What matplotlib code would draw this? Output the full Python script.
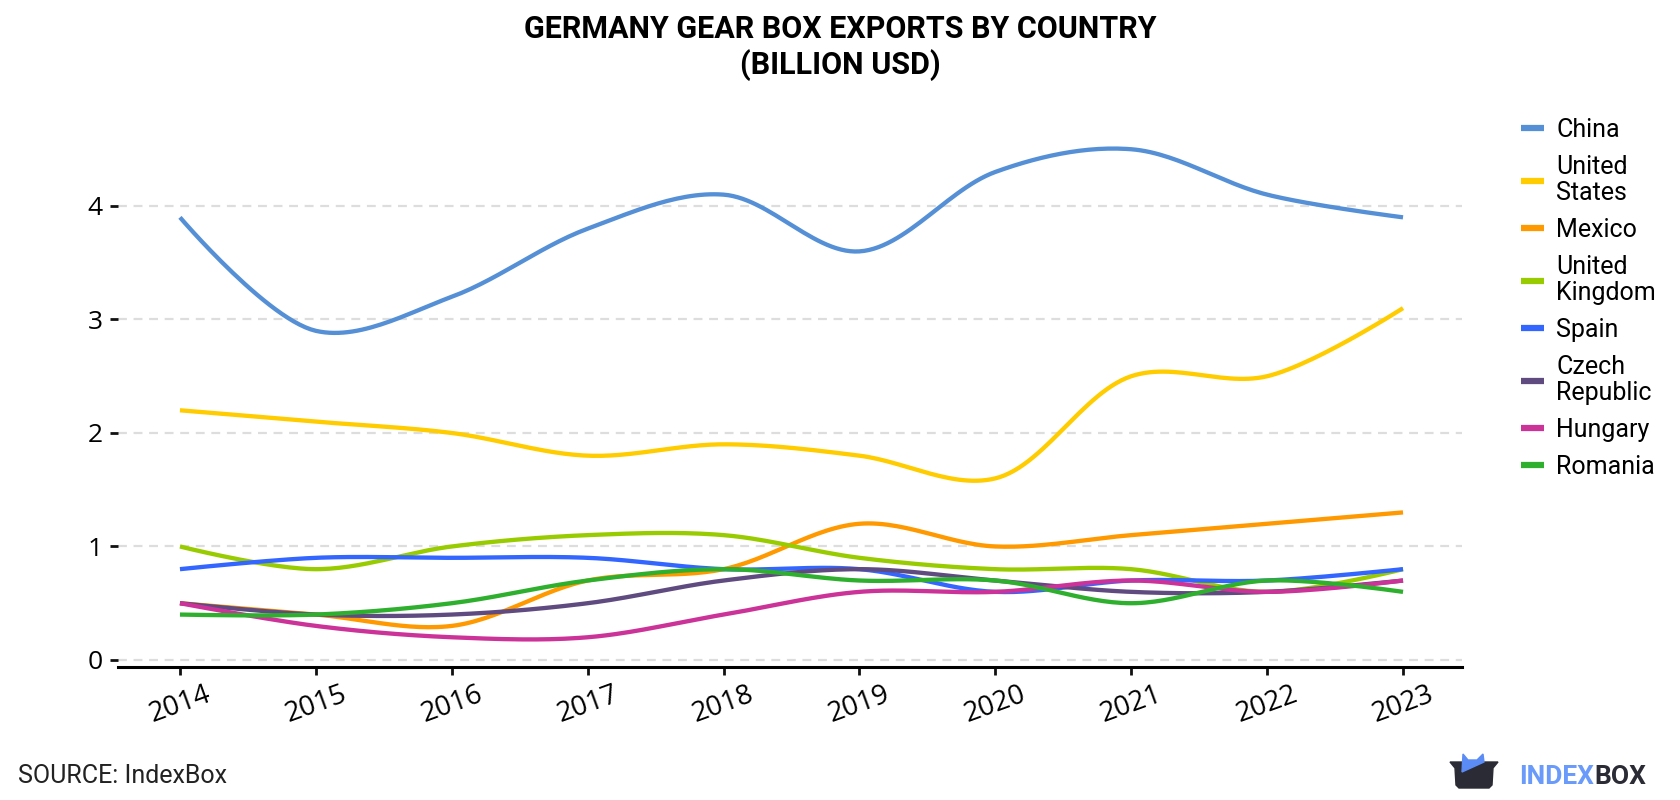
import numpy as np
import matplotlib
matplotlib.use('Agg')
import matplotlib.pyplot as plt
from matplotlib.patches import Polygon

plt.rcParams['font.family'] = ['Roboto', 'DejaVu Sans']

years = [2014, 2015, 2016, 2017, 2018, 2019, 2020, 2021, 2022, 2023]

china = [3.9, 2.9, 3.2, 3.8, 4.1, 3.6, 4.3, 4.5, 4.1, 3.9]
united_states = [2.2, 2.1, 2.0, 1.8, 1.9, 1.8, 1.6, 2.5, 2.5, 3.1]
mexico = [0.5, 0.4, 0.3, 0.7, 0.8, 1.2, 1.0, 1.1, 1.2, 1.3]
united_kingdom = [1.0, 0.8, 1.0, 1.1, 1.1, 0.9, 0.8, 0.8, 0.6, 0.8]
spain = [0.8, 0.9, 0.9, 0.9, 0.8, 0.8, 0.6, 0.7, 0.7, 0.8]
czech = [0.5, 0.4, 0.4, 0.5, 0.7, 0.8, 0.7, 0.6, 0.6, 0.7]
hungary = [0.5, 0.3, 0.2, 0.2, 0.4, 0.6, 0.6, 0.7, 0.6, 0.7]
romania = [0.4, 0.4, 0.5, 0.7, 0.8, 0.7, 0.7, 0.5, 0.7, 0.6]

labels = ['China', 'United\nStates', 'Mexico', 'United\nKingdom', 'Spain',
          'Czech\nRepublic', 'Hungary', 'Romania']
colors = ['#5590d6', '#ffcc00', '#ff9900', '#99cc00', '#3366ff',
          '#5f4b80', '#cc3399', '#2eb02e']
series = [china, united_states, mexico, united_kingdom, spain, czech, hungary, romania]

SX, SY = 136.0, 113.5  # px per year / per unit, for the curve shape


def catmull_rom(x, y, n=30, alpha=0.5):
    # centripetal catmull-rom through the points, same as d3.curveCatmullRom
    P = np.column_stack([(np.asarray(x, float) - x[0]) * SX, np.asarray(y, float) * SY])
    out = [P[:1]]
    t = np.linspace(0, 1, n)[1:, None]
    for i in range(len(P) - 1):
        p1, p2 = P[i], P[i + 1]
        c1, c2 = p1.copy(), p2.copy()
        l12 = np.hypot(*(p2 - p1))
        if i > 0:
            p0 = P[i - 1]
            l01 = np.hypot(*(p1 - p0))
            a = 2 * l01 ** (2 * alpha) + 3 * l01 ** alpha * l12 ** alpha + l12 ** (2 * alpha)
            nn = 3 * l01 ** alpha * (l01 ** alpha + l12 ** alpha)
            c1 = (p1 * a - p0 * l12 ** (2 * alpha) + p2 * l01 ** (2 * alpha)) / nn
        if i < len(P) - 2:
            p3 = P[i + 2]
            l23 = np.hypot(*(p3 - p2))
            b = 2 * l23 ** (2 * alpha) + 3 * l23 ** alpha * l12 ** alpha + l12 ** (2 * alpha)
            m = 3 * l23 ** alpha * (l23 ** alpha + l12 ** alpha)
            c2 = (p2 * b + p1 * l23 ** (2 * alpha) - p3 * l12 ** (2 * alpha)) / m
        seg = ((1 - t) ** 3) * p1 + 3 * ((1 - t) ** 2) * t * c1 + 3 * (1 - t) * t ** 2 * c2 + t ** 3 * p2
        out.append(seg)
    out = np.vstack(out)
    return out[:, 0] / SX + x[0], out[:, 1] / SY


fig = plt.figure(figsize=(16.8, 8), dpi=100)
ax = fig.add_axes([118 / 1680, 133 / 800, 1344 / 1680, 574.5 / 800])

for vals, lab, col in zip(series, labels, colors):
    sx, sy = catmull_rom(years, vals)
    ax.plot(sx, sy, color=col, linewidth=3.1, label=lab, solid_capstyle='butt')

ax.set_xlim(2013.544, 2023.434)
ax.set_ylim(-0.062, 5.0)
ax.set_xticks(years)
ax.set_xticklabels([str(y) for y in years], rotation=20, fontsize=20,
                   family=['Open Sans', 'DejaVu Sans'])
ax.set_yticks([0, 1, 2, 3, 4])
ax.set_yticklabels(['0', '1', '2', '3', '4'], fontsize=19,
                   family=['Open Sans', 'DejaVu Sans'])
ax.grid(axis='y', linestyle=(0, (4, 3)), color='#dddddd', linewidth=1.6)
ax.set_axisbelow(True)
for s in ['top', 'right', 'left']:
    ax.spines[s].set_visible(False)
ax.spines['bottom'].set_linewidth(2.2)
ax.tick_params(axis='x', length=6, width=2, color='#111111', pad=4)
ax.tick_params(axis='y', length=6, width=2, color='#111111', pad=5)

leg = fig.legend(loc='upper left', bbox_to_anchor=(1511 / 1680, 1 - 108 / 800), frameon=False,
                 fontsize=18, handlelength=0.9, handletextpad=0.5,
                 labelspacing=0.52, borderaxespad=0)
for line in leg.get_lines():
    line.set_linewidth(4.5)
for txt in leg.get_texts():
    txt.set_linespacing(1.1)

fig.text(0.5, 1 - 14 / 800, 'GERMANY GEAR BOX EXPORTS BY COUNTRY\n(BILLION USD)',
         ha='center', va='top', fontsize=22, fontweight='bold', linespacing=1.2)
fig.text(18 / 1680, 1 - 783 / 800, 'SOURCE: IndexBox', fontsize=18, color='#222222',
         va='baseline')


# logo
def px(pts):
    return [[x / 1680, 1 - y / 800] for x, y in pts]


box = Polygon(px([(1450, 762), (1498, 762), (1493, 768), (1492, 785), (1489, 788),
                  (1459, 788), (1456, 785), (1455, 768)]),
              closed=True, transform=fig.transFigure, color='#2b2b35')
ears = Polygon(px([(1462, 772), (1463, 754), (1468, 760), (1477, 760), (1483, 754),
                   (1484, 762)]),
               closed=True, transform=fig.transFigure, color='#5b8cf5')
fig.patches.extend([box, ears])
t1 = fig.text(1519 / 1680, 1 - 784 / 800, 'INDEX', fontsize=19, fontweight='bold',
              color='#6a9bfa', va='baseline')
r = fig.canvas.get_renderer()
bb = t1.get_window_extent(r)
fig.text(bb.x1 / 1680, 1 - 784 / 800, 'BOX', fontsize=19, fontweight='bold',
         color='#2b2b35', va='baseline')

fig.savefig('out.png', dpi=100)
